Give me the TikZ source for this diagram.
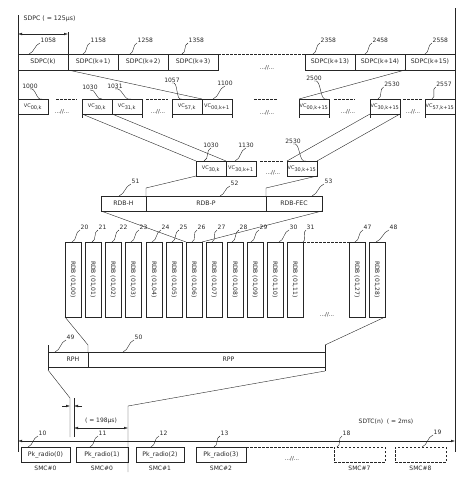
\documentclass[tikz,border=0pt]{standalone}
\usepackage{fontspec}
\setmainfont{DejaVu Sans}
\usetikzlibrary{arrows.meta,positioning}

\tikzset{
  box/.style={draw, line width=0.6pt, inner sep=0pt, outer sep=0pt, anchor=north west,
    minimum height=16pt, font=\fontsize{6.2}{7}\selectfont},
  sdpcbox/.style={box, minimum width=50pt},
  vcbox/.style={box, minimum width=30pt, minimum height=15pt, font=\fontsize{5}{6}\selectfont},
  rdbbox/.style={box, minimum width=16pt, minimum height=75pt, font=\fontsize{6}{7}\selectfont},
  pkbox/.style={box, minimum height=15pt},
  tag/.style={inner sep=0.5pt, font=\fontsize{6}{7}\selectfont},
  smc/.style={inner sep=0.5pt, font=\fontsize{6}{7}\selectfont},
  lead/.style={out=20, in=200},
  dashgap/.style={dash pattern=on 2.5pt off 1.5pt},
  breaktxt/.style={inner sep=0pt, font=\fontsize{5.5}{6}\selectfont},
  onearrow/.style={-{Latex[length=4pt,width=2.6pt]}},
  twoarrow/.style={{Latex[length=4pt,width=2.6pt]}-{Latex[length=4pt,width=2.6pt]}},
}

\begin{document}
\begin{tikzpicture}[x=1pt, y=-1pt, line width=0.4pt, color=black!85]
  \useasboundingbox (0,0) rectangle (474,498);

  % frame
  \coordinate (tl) at (18,15);
  \coordinate (bl) at (18,452);
  \coordinate (tr) at (455,8);
  \coordinate (br) at (455,452);
  \draw (tl) -- (bl);
  \draw (tr) -- (br);

  % SDPC row
  \node[tag, anchor=west, font=\fontsize{6.2}{7}\selectfont] (sdpct) at (23,19) {SDPC ( = 125µs)};
  \node[sdpcbox] (sdpck) at (18,54) {SDPC(k)};
  \node[sdpcbox, right=0pt of sdpck] (sdpck1) {SDPC(k+1)};
  \node[sdpcbox, right=0pt of sdpck1] (sdpck2) {SDPC(k+2)};
  \node[sdpcbox, right=0pt of sdpck2] (sdpck3) {SDPC(k+3)};
  \node[sdpcbox] (sdpck13) at (305,54) {SDPC(k+13)};
  \node[sdpcbox, right=0pt of sdpck13] (sdpck14) {SDPC(k+14)};
  \node[sdpcbox, right=0pt of sdpck14] (sdpck15) {SDPC(k+15)};
  \draw[dashgap] (sdpck3.north east) -- (sdpck13.north west);
  \node[breaktxt] (brk1) at (267,68) {...//...};
  \coordinate (sdpcm) at (68,32);
  \draw (sdpcm) -- (sdpck.north east);
  \draw[twoarrow] ([yshift=20]sdpck.north west) -- ([yshift=20]sdpck.north east);

  \node[tag, anchor=south west] (t1058) at (40,43) {1058};
  \node[tag, anchor=south west] (t1158) at (90,43) {1158};
  \node[tag, anchor=south west] (t1258) at (137,43) {1258};
  \node[tag, anchor=south west] (t1358) at (188,43) {1358};
  \node[tag, anchor=south west] (t2358) at (320,43) {2358};
  \node[tag, anchor=south west] (t2458) at (372,43) {2458};
  \node[tag, anchor=south west] (t2558) at (432,43) {2558};
  \draw ([xshift=11]sdpck.north west) to[lead] (t1058.south west);
  \draw ([xshift=15]sdpck1.north west) to[lead] (t1158.south west);
  \draw ([xshift=12]sdpck2.north west) to[lead] (t1258.south west);
  \draw ([xshift=14]sdpck3.north west) to[lead] (t1358.south west);
  \draw ([xshift=8]sdpck13.north west) to[lead] (t2358.south west);
  \draw ([xshift=10]sdpck14.north west) to[lead] (t2458.south west);
  \draw ([xshift=20]sdpck15.north west) to[lead] (t2558.south west);

  % VC row
  \node[vcbox] (vc00k) at (18,99) {VC\textsubscript{00,k}};
  \node[vcbox] (vc30k) at (82,99) {VC\textsubscript{30,k}};
  \node[vcbox, right=0pt of vc30k] (vc31k) {VC\textsubscript{31,k}};
  \node[vcbox] (vc57k) at (172,99) {VC\textsubscript{57,k}};
  \node[vcbox, right=0pt of vc57k] (vc00k1) {VC\textsubscript{00,k+1}};
  \node[vcbox] (vc00k15) at (299,99) {VC\textsubscript{00,k+15}};
  \node[vcbox] (vc30k15) at (370,99) {VC\textsubscript{30,k+15}};
  \node[vcbox] (vc57k15) at (425,99) {VC\textsubscript{57,k+15}};
  \draw[dashgap] ([xshift=8]vc00k.north east) -- ([xshift=-5]vc30k.north west);
  \draw[dashgap] ([xshift=4]vc31k.north east) -- ([xshift=-4]vc57k.north west);
  \draw[dashgap] ([xshift=22]vc00k1.north east) -- ([xshift=-21]vc00k15.north west);
  \draw[dashgap] ([xshift=5]vc00k15.north east) -- ([xshift=-15]vc30k15.north west);
  \draw[dashgap] ([xshift=3]vc30k15.north east) -- ([xshift=-3]vc57k15.north west);
  \node[breaktxt] (brk2) at (62,112) {...//...};
  \node[breaktxt] (brk3) at (158,112) {...//...};
  \node[breaktxt] (brk4) at (267,113) {...//...};
  \node[breaktxt] (brk5) at (348,112) {...//...};
  \node[breaktxt] (brk6) at (413,112) {...//...};
  \foreach \a in {vc30k.south west, vc31k.south east, vc57k.south west, vc00k1.south east,
                  vc00k15.south west, vc00k15.south east, vc30k15.south west,
                  vc30k15.south east, vc57k15.south west}
    \draw (\a) -- ++(0,4);

  \node[tag] (t1000) at (30,86) {1000};
  \node[tag] (t1030) at (90,87) {1030};
  \node[tag] (t1031) at (115,86) {1031};
  \node[tag] (t1057) at (172,80) {1057};
  \node[tag] (t1100) at (225,83) {1100};
  \node[tag] (t2500) at (314,78) {2500};
  \node[tag] (t2530) at (392,84) {2530};
  \node[tag] (t2557) at (444,84) {2557};
  \draw (t1000.south) to[lead] ([xshift=24]vc00k.north west);
  \draw (t1030.south) to[lead] ([xshift=20]vc30k.north west);
  \draw (t1031.south) to[lead] ([xshift=19]vc31k.north west);
  \draw (t1057.south) to[lead] ([xshift=10]vc57k.north west);
  \draw ([xshift=11]vc00k1.north west) to[lead] (t1100.south);
  \draw (t2500.south) to[lead] ([xshift=28]vc00k15.north west);
  \draw ([xshift=8]vc30k15.north west) to[lead] (t2530.south west);
  \draw ([xshift=7]vc57k15.north west) to[lead] (t2557.south west);

  \draw (sdpck.south east) -- (vc00k1.north west);
  \draw (sdpck15.south west) -- (vc00k15.north west);

  % VC30 row
  \node[vcbox] (m30k) at (196,161) {VC\textsubscript{30,k}};
  \node[vcbox, right=0pt of m30k] (m30k1) {VC\textsubscript{30,k+1}};
  \node[vcbox] (m30k15) at (287,161) {VC\textsubscript{30,k+15}};
  \draw[dashgap] ([xshift=4]m30k1.north east) -- ([xshift=-4]m30k15.north west);
  \node[breaktxt] (brk7) at (273,173) {...//...};
  \node[tag] (t1030b) at (211,145) {1030};
  \node[tag] (t1130) at (246,145) {1130};
  \node[tag] (t2530b) at (293,141) {2530};
  \draw ([xshift=8]m30k.north west) to[lead] (t1030b.south);
  \draw ([xshift=9]m30k1.north west) to[lead] (t1130.south);
  \draw (t2530b.south) to[lead] ([xshift=19]m30k15.north west);

  \draw (vc30k.south west) -- (m30k.north west);
  \draw (vc30k.south east) -- (m30k.north east);
  \draw (vc30k15.south west) -- (m30k15.north west);
  \draw (vc30k15.south east) -- (m30k15.north east);

  % RDB row
  \node[box, minimum width=45pt, minimum height=15pt] (rdbh) at (101,196) {RDB-H};
  \node[box, minimum width=120pt, minimum height=15pt, right=0pt of rdbh] (rdbp) {RDB-P};
  \node[box, minimum width=56pt, minimum height=15pt, right=0pt of rdbp] (rdbfec) {RDB-FEC};
  \coordinate (pl) at ([yshift=8]rdbp.north west);
  \coordinate (pr) at ([yshift=8]rdbp.north east);
  \draw (m30k.south west) -- (pl) -- (rdbp.north west);
  \draw (m30k15.south east) -- (pr) -- (rdbp.north east);
  \node[tag, anchor=south west] (t51) at (131,184) {51};
  \node[tag, anchor=south west] (t52) at (230,186) {52};
  \node[tag, anchor=south west] (t53) at (324,184) {53};
  \draw ([xshift=18]rdbh.north west) to[lead] (t51.south west);
  \draw ([xshift=74]rdbp.north west) to[lead] (t52.south west);
  \draw ([xshift=46]rdbfec.north west) to[lead] (t53.south west);

  % RDB blocks
  \foreach \n/\x/\c/\s/\t in {20/65/00/7/80, 21/85/01/7/98, 22/105/02/7/119, 23/125/03/6/139,
      24/146/04/6/161, 25/166/05/6/179, 26/186/06/6/197, 27/206/07/6/217, 28/227/08/5/239,
      29/247/09/4/259, 30/267/10/12/289, 31/287/11/16/306, 47/349/27/6/363, 48/369/28/7/389} {
    \node[rdbbox] (r\n) at (\x,242) {\rotatebox{-90}{RDB (01,\c)}};
    \node[tag, anchor=south west] (t\n) at (\t,230) {\n};
    \draw ([xshift=\s]r\n.north west) to[lead] (t\n.south west);
  }
  \draw[dashgap] (r31.north east) -- (r47.north west);
  \node[breaktxt] (brk8) at (327,315) {...//...};
  \draw (rdbh.south west) -- (r26.north west);
  \draw (rdbfec.south east) -- (r26.north east);

  % RPH / RPP
  \node[box, minimum width=40pt, minimum height=15pt] (rph) at (48,352) {\hspace*{10pt}RPH};
  \node[box, minimum width=237pt, minimum height=15pt, right=0pt of rph] (rpp) {\hspace*{44pt}RPP};
  \coordinate (rl) at ([yshift=7]rph.north west);
  \coordinate (rm) at ([yshift=7]rpp.north west);
  \coordinate (rr) at ([yshift=7]rpp.north east);
  \coordinate (rlb) at ([yshift=-3]rph.south west);
  \coordinate (rrb) at ([yshift=-4]rpp.south east);
  \draw (rl) -- (rlb);
  \draw (rr) -- (rrb);
  \draw (r20.south west) -- (rm) -- (rpp.north west);
  \draw (r48.south east) -- (rr);
  \node[tag, anchor=south west] (t49) at (66,340) {49};
  \node[tag, anchor=south west] (t50) at (134,340) {50};
  \draw ([xshift=7]rph.north west) to[lead] (t49.south west);
  \draw ([xshift=35]rpp.north west) to[lead] (t50.south west);

  % radio packet timing
  \coordinate (w1) at (70,398);
  \coordinate (w1b) at (70,437);
  \coordinate (w2) at (74,398);
  \coordinate (w2b) at (74,437);
  \coordinate (e1) at (128,406);
  \coordinate (e1b) at (128,472);
  \draw (rlb) -- (w1) -- (w1b);
  \draw (w2) -- (w2b);
  \draw (rrb) -- (e1) -- (e1b);
  \draw[onearrow] (62,406) -- (w1 |- 0,406);
  \draw[onearrow] (82,406) -- (w2 |- 0,406);
  \draw[twoarrow] (w2 |- 0,428) -- (e1 |- 0,428);
  \node[tag] (t198) at (101,421) {( = 198µs)};
  \draw[twoarrow] (bl |- 0,441) -- (br |- 0,441);
  \node[tag] (tsdtc) at (386,422) {SDTC(n) \ ( = 2ms)};

  % radio packets
  \node[pkbox, minimum width=49pt] (pk0) at (21,447) {Pk\_radio(0)};
  \node[pkbox, minimum width=52pt] (pk1) at (76,447) {Pk\_radio(1)};
  \node[pkbox, minimum width=48pt] (pk2) at (136,447) {Pk\_radio(2)};
  \node[pkbox, minimum width=50pt] (pk3) at (196,447) {Pk\_radio(3)};
  \node[pkbox, dashgap, minimum width=51pt] (pk18) at (334,447) {};
  \node[pkbox, dashgap, minimum width=51pt] (pk19) at (395,447) {};
  \draw[dashgap] (pk3.north east) -- (pk18.north west);
  \node[breaktxt] (brk9) at (292,459) {...//...};

  \node[tag, anchor=south west] (t10) at (38,436) {10};
  \node[tag, anchor=south west] (t11) at (98,436) {11};
  \node[tag, anchor=south west] (t12) at (159,436) {12};
  \node[tag, anchor=south west] (t13) at (220,436) {13};
  \node[tag, anchor=south west] (t18) at (342,436) {18};
  \node[tag, anchor=south west] (t19) at (433,435) {19};
  \draw ([xshift=7]pk0.north west) to[lead] (t10.south west);
  \draw ([xshift=14]pk1.north west) to[lead] (t11.south west);
  \draw ([xshift=15]pk2.north west) to[lead] (t12.south west);
  \draw ([xshift=18]pk3.north west) to[lead] (t13.south west);
  \draw ([xshift=3]pk18.north west) to[lead] (t18.south west);
  \draw ([xshift=27]pk19.north west) to[lead] (t19.south west);

  \node[smc, below=3pt of pk0] (s0) {SMC\#0};
  \node[smc, below=3pt of pk1] (s1) {SMC\#0};
  \node[smc, below=3pt of pk2] (s2) {SMC\#1};
  \node[smc, below=3pt of pk3] (s3) {SMC\#2};
  \node[smc, below=3pt of pk18] (s18) {SMC\#7};
  \node[smc, below=3pt of pk19] (s19) {SMC\#8};
\end{tikzpicture}
\end{document}
